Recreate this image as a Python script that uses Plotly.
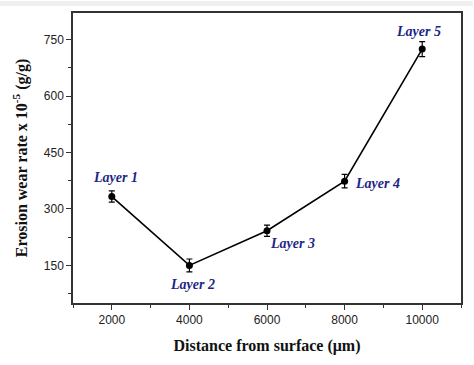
import plotly.graph_objects as go

distance = [2000, 4000, 6000, 8000, 10000]
wear_rate = [333, 150, 242, 374, 725]
wear_err = [15, 17, 15, 18, 20]
layer_labels = ["Layer 1", "Layer 2", "Layer 3", "Layer 4", "Layer 5"]
x_ticks = [2000, 4000, 6000, 8000, 10000]
x_tick_text = ["2000", "4000", "6000", "8000", "10000"]
y_ticks = [150, 300, 450, 600, 750]
# label offsets (pixels) relative to each point
label_dx = [4, 3, 25, 33, -4]
label_dy = [-19, 19, 13, 2, -18]

fig = go.Figure()
fig.add_trace(go.Scatter(
    x=distance, y=wear_rate,
    mode="lines+markers",
    line=dict(color="black", width=1.6),
    marker=dict(color="black", size=7),
    error_y=dict(type="data", array=wear_err, color="black", thickness=1.2, width=3),
    showlegend=False,
))

for x, y, t, dx, dy in zip(distance, wear_rate, layer_labels, label_dx, label_dy):
    fig.add_annotation(
        x=x, y=y, text=f"<b><i>{t}</i></b>", showarrow=True, arrowcolor="rgba(0,0,0,0)",
        ax=dx, ay=dy, font=dict(family="Liberation Serif", size=14, color="#1c2585"),
    )

fig.update_xaxes(
    range=[1000, 11000], tickvals=x_ticks, ticktext=x_tick_text, ticks="outside",
    ticklen=5, tickwidth=1.2,
    tickcolor="#333", showline=True, linecolor="#333", linewidth=1.5, mirror=True,
    showgrid=False, zeroline=False,
    minor=dict(tickvals=[1000, 3000, 5000, 7000, 9000, 11000], ticks="outside", ticklen=3,
               tickcolor="#333", tickwidth=1.2),
    tickfont=dict(family="Liberation Sans", size=12, color="#222"),
    title=dict(text="<b>Distance from surface (μm)</b>",
               font=dict(family="Liberation Serif", size=16, color="#111"), standoff=14),
)
fig.update_yaxes(
    range=[50, 821], tickvals=y_ticks, ticks="outside", ticklen=5, tickwidth=1.2,
    tickcolor="#333", showline=True, linecolor="#333", linewidth=1.5, mirror=True,
    showgrid=False, zeroline=False,
    minor=dict(tickvals=[75, 225, 375, 525, 675], ticks="outside", ticklen=3,
               tickcolor="#333", tickwidth=1.2),
    tickfont=dict(family="Liberation Sans", size=12, color="#222"),
    title=dict(text="<b>Erosion wear rate x 10<sup>-5</sup> (g/g)</b>",
               font=dict(family="Liberation Serif", size=16, color="#111"), standoff=12),
)

fig.update_layout(
    width=474, height=365,
    margin=dict(l=73, r=11, t=12, b=62),
    paper_bgcolor="white", plot_bgcolor="white",
    shapes=[dict(type="rect", xref="paper", yref="paper", x0=-0.2, x1=1.03,
                 y0=1.0 + 7/291, y1=1.0 + 12/291, fillcolor="#f0f0f0", line=dict(width=0),
                 layer="below")],
)

fig.write_html("out.html")
